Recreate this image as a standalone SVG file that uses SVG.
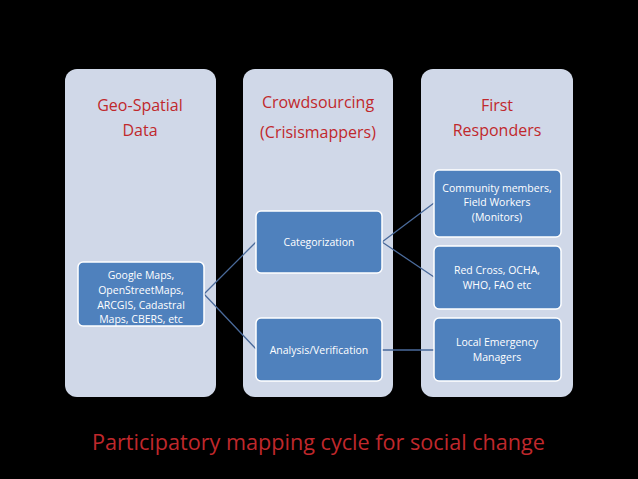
<svg xmlns="http://www.w3.org/2000/svg" width="638" height="479" viewBox="0 0 638 479">
<style>
.p{fill:#D0D8E8}
.n{fill:#4F81BD;stroke:#fff;stroke-width:1.5}
.t{font-family:"Open Sans","Liberation Sans",sans-serif;font-size:16px;fill:#C0282C;text-anchor:middle}
.w{font-family:"Open Sans","Liberation Sans",sans-serif;font-size:10.5px;fill:#fff;text-anchor:middle}
.c{stroke:#4A6A9A;stroke-width:1.3;fill:none}
</style>
<rect width="638" height="479" fill="#000"/>
<g id="panel1"><rect class="p" x="65" y="69" width="151" height="328" rx="12"/><text class="t" x="140" y="111">Geo-Spatial</text><text class="t" x="140" y="136">Data</text></g>
<g id="panel2"><rect class="p" x="243" y="69" width="150" height="328" rx="12"/><text class="t" x="318" y="108">Crowdsourcing</text><text class="t" x="318" y="138">(Crisismappers)</text></g>
<g id="panel3"><rect class="p" x="421" y="69" width="152" height="328" rx="12"/><text class="t" x="497" y="111">First</text><text class="t" x="497" y="136">Responders</text></g>
<g id="connectors">
<path class="c" d="M204 294L256 242M204 294L256 349M382 242L434 203M382 242L434 277M382 350L434 350"/>
</g>
<g id="google"><rect class="n" x="78" y="262" width="126" height="64" rx="5"/><text class="w" x="141" y="279">Google Maps,</text><text class="w" x="141" y="294">OpenStreetMaps,</text><text class="w" x="141" y="309">ARCGIS, Cadastral</text><text class="w" x="141" y="323">Maps, CBERS,  etc</text></g>
<g id="categorization"><rect class="n" x="256" y="211" width="126" height="62" rx="5"/><text class="w" x="319" y="246">Categorization</text></g>
<g id="analysis"><rect class="n" x="256" y="318" width="126" height="63" rx="5"/><text class="w" x="319" y="354">Analysis/Verification</text></g>
<g id="community"><rect class="n" x="434" y="170" width="127" height="67" rx="5"/><text class="w" x="497" y="192">Community members,</text><text class="w" x="497" y="206">Field Workers</text><text class="w" x="497" y="221">(Monitors)</text></g>
<g id="redcross"><rect class="n" x="434" y="246" width="127" height="63" rx="5"/><text class="w" x="497" y="274">Red Cross, OCHA,</text><text class="w" x="497" y="289">WHO, FAO etc</text></g>
<g id="local"><rect class="n" x="434" y="318" width="127" height="63" rx="5"/><text class="w" x="497" y="346">Local Emergency</text><text class="w" x="497" y="361">Managers</text></g>
<text x="92" y="450" font-family="Open Sans,Liberation Sans,sans-serif" font-size="21" fill="#C0282C" textLength="453" lengthAdjust="spacingAndGlyphs">Participatory mapping cycle for social change</text>
</svg>
